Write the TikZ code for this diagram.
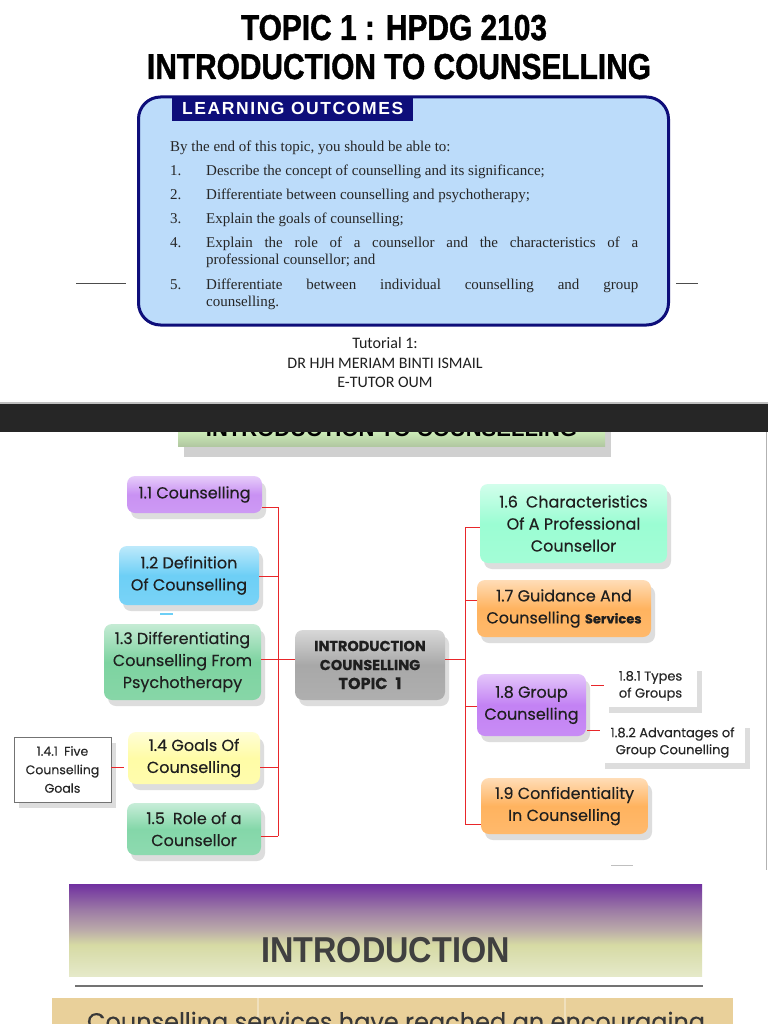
\documentclass[tikz,border=0pt]{standalone}
\usepackage{fontspec}
\setmainfont{Liberation Serif}
\newfontfamily\titlefont{Liberation Sans}[FakeStretch=0.83,FakeBold=1.2]
\newfontfamily\introfont{Liberation Sans}[FakeStretch=0.9]
\newfontfamily\gothic{Poppins}[FakeBold=0.3]
\newfontfamily\calib{Carlito}
\newfontfamily\arialf{Liberation Sans}
\newfontfamily\lofont{Liberation Sans}[LetterSpace=9]
\usetikzlibrary{shadows}
\definecolor{navy}{HTML}{0E0E7A}
\definecolor{lobg}{HTML}{BCDCFA}
\definecolor{band}{HTML}{262626}
\definecolor{conn}{HTML}{E8262A}
\definecolor{c11}{HTML}{C991F3}
\definecolor{c12}{HTML}{6DCFF6}
\definecolor{c13}{HTML}{7DD3A0}
\definecolor{c14}{HTML}{FFFCA6}
\definecolor{c15}{HTML}{84D7A9}
\definecolor{ccen}{HTML}{A8A8A8}
\definecolor{c16}{HTML}{9BFDD3}
\definecolor{c17}{HTML}{FFB35F}
\definecolor{c18}{HTML}{C382F4}
\definecolor{c19}{HTML}{FFB35F}
\definecolor{hdrg}{HTML}{D2F2BC}
\definecolor{tan}{HTML}{E9D09A}
\definecolor{ipurple}{HTML}{7030A0}
\definecolor{imauve}{HTML}{9C7AA5}
\definecolor{imid}{HTML}{BBABA9}
\definecolor{iyel}{HTML}{D6DAA4}
\definecolor{ibot}{HTML}{E5E9C9}
\pgfdeclareverticalshading{introshade}{100bp}{color(0bp)=(ibot); color(25bp)=(ibot); color(42bp)=(iyel); color(50bp)=(imid); color(61bp)=(imauve); color(75bp)=(ipurple); color(100bp)=(ipurple)}
\begin{document}
\begin{tikzpicture}[x=1pt,y=-1pt,
  mbox/.style={rounded corners=8pt, align=center, inner sep=2pt,
    font=\gothic\fontsize{16}{22}\selectfont, text=black!88,
    top color=#1!45!white, bottom color=#1!92!white, middle color=#1,
    drop shadow={shadow xshift=4pt, shadow yshift=-6pt, opacity=0.22, fill=black!60}},
  wbox/.style={fill=white, align=center, inner sep=2pt,
    font=\gothic\fontsize{13}{17}\selectfont, text=black!85,
    drop shadow={shadow xshift=5pt, shadow yshift=-6pt, opacity=0.22, fill=black!60}},
  cline/.style={draw=conn, line width=0.9pt},
  lotext/.style={inner sep=0pt, anchor=base west, font=\fontsize{15}{17}\selectfont, text=black!85},
  tut/.style={inner sep=0pt, anchor=base, font=\calib\fontsize{16}{18}\selectfont, text=black!88}]
\useasboundingbox (0,0) rectangle (768,1024);
\fill[white] (0,0) rectangle (768,1024);

% ---------- title slide ----------
\node[anchor=base, inner sep=0pt, font=\titlefont\bfseries\fontsize{36}{40}\selectfont] (title1) at (394,40) {TOPIC 1 : HPDG 2103};
\node[anchor=base, inner sep=0pt, font=\titlefont\bfseries\fontsize{36}{40}\selectfont] (title2) at (399,79) {INTRODUCTION TO COUNSELLING};

\node[draw=navy, line width=3pt, fill=lobg, rounded corners=22pt, minimum width=530pt, minimum height=228pt] (lo) at (403.5,211) {};
\node[fill=navy, text=white, inner sep=0pt, anchor=north west, minimum width=241pt, minimum height=25pt, font=\lofont\bfseries\fontsize{17.5}{18}\selectfont] (loh) at (172,96) {LEARNING OUTCOMES};

\node[lotext] (lo0) at (170,151.5) {By the end of this topic, you should be able to:};
\node[lotext] (n1) at (170,175.5) {1.};
\node[lotext] (t1) at (206,175.5) {Describe the concept of counselling and its significance;};
\node[lotext] (n2) at (170,199.5) {2.};
\node[lotext] (t2) at (206,199.5) {Differentiate between counselling and psychotherapy;};
\node[lotext] (n3) at (170,223.5) {3.};
\node[lotext] (t3) at (206,223.5) {Explain the goals of counselling;};
\node[lotext] (n4) at (170,247.5) {4.};
\node[lotext] (t4) at (206,247.5) {\makebox[432pt][s]{Explain the role of a counsellor and the characteristics of a}};
\node[lotext] (t4b) at (206,264.5) {professional counsellor; and};
\node[lotext] (n5) at (170,289.5) {5.};
\node[lotext] (t5) at (206,289.5) {\makebox[432pt][s]{Differentiate between individual counselling and group}};
\node[lotext] (t5b) at (206,306.5) {counselling.};

\coordinate (ll1) at (76,283);
\coordinate (ll2) at (126,283);
\coordinate (rl1) at (676,283);
\coordinate (rl2) at (698,283);
\draw[black!70, line width=0.9pt] (ll1) -- (ll2);
\draw[black!70, line width=0.9pt] (rl1) -- (rl2);

\node[tut] (tu1) at (385,348) {Tutorial 1:};
\node[tut] (tu2) at (385,368.5) {DR HJH MERIAM BINTI ISMAIL};
\node[tut] (tu3) at (385,387.5) {E-TUTOR OUM};

% ---------- mind map slide ----------
\node[minimum width=427pt, minimum height=34pt, inner sep=0pt,
  top color=hdrg!60!white, bottom color=hdrg!80!black!90, middle color=hdrg,
  font=\arialf\bfseries\fontsize{22}{24}\selectfont,
  drop shadow={shadow xshift=6pt, shadow yshift=-11pt, opacity=0.3, fill=black!60}] (hd) at (391.5,429) {INTRODUCTION TO COUNSELLING};
\fill[black!25] (0,402) rectangle (768,404);
\fill[band] (0,404) rectangle (768,432);
\draw[black!30, line width=0.8pt] (766,432) -- (766,870);

\node[mbox=c11, minimum width=135pt, minimum height=37pt] (m11) at (194.5,494.5) {1.1 Counselling};
\node[mbox=c12, minimum width=140pt, minimum height=59pt] (m12) at (189,575.5) {1.2 Definition\\Of Counselling};
\node[mbox=c13, minimum width=157pt, minimum height=76pt] (m13) at (182.5,662) {1.3 Differentiating\\Counselling From\\Psychotherapy};
\node[mbox=c14, minimum width=132pt, minimum height=52pt] (m14) at (194,758) {1.4 Goals Of\\Counselling};
\node[wbox, draw=black!55, line width=0.8pt, minimum width=97pt, minimum height=65pt, font=\gothic\fontsize{12.5}{18.5}\selectfont] (m141) at (62.5,769.5) {1.4.1\enspace Five\\Counselling\\Goals};
\node[mbox=c15, minimum width=134pt, minimum height=52pt] (m15) at (194,829) {1.5\enspace Role of a\\Counsellor};
\node[mbox=ccen, minimum width=150pt, minimum height=70pt, font=\gothic\bfseries\fontsize{14.5}{19}\selectfont] (mc) at (370,665) {INTRODUCTION\\COUNSELLING\\{\fontsize{16}{19}\selectfont TOPIC\enspace 1}};
\node[mbox=c16, minimum width=187pt, minimum height=79pt] (m16) at (573.5,523.5) {1.6\enspace Characteristics\\Of A Professional\\Counsellor};
\node[mbox=c17, minimum width=174pt, minimum height=57pt] (m17) at (564,608.5) {1.7 Guidance And\\Counselling {\bfseries\fontsize{13}{22}\selectfont Services}};
\node[mbox=c18, minimum width=109pt, minimum height=62pt] (m18) at (531.5,705) {1.8 Group\\Counselling};
\node[wbox, minimum width=93pt, minimum height=42pt] (m181) at (650.5,686) {1.8.1 Types\\of Groups};
\node[wbox, minimum width=145pt, minimum height=41pt] (m182) at (672.5,742.5) {1.8.2 Advantages of\\Group Counelling};
\node[mbox=c19, minimum width=167pt, minimum height=56pt] (m19) at (564.5,806) {1.9 Confidentiality\\In Counselling};

% connectors, left
\coordinate (b11) at (278,507);
\coordinate (b12) at (278,576);
\coordinate (b13) at (278,659);
\coordinate (b14) at (278,767);
\coordinate (b15) at (278,836);
\draw[cline] (m11.east |- b11) -- (b11);
\draw[cline] (m12.east |- b12) -- (b12);
\draw[cline] (m13.east |- b13) -- (mc.west |- b13);
\draw[cline] (m14.east |- b14) -- (b14);
\draw[cline] (m15.east |- b15) -- (b15);
\draw[cline] (b11) -- (b15);
\draw[cline] (m141.east |- b14) -- ([xshift=-4pt]m14.west |- b14);
% connectors, right
\coordinate (r0) at (465,659);
\coordinate (r16) at (465,527);
\coordinate (r17) at (465,600);
\coordinate (r18) at (465,706);
\coordinate (r19) at (465,824);
\draw[cline] (mc.east |- r0) -- (r0);
\draw[cline] (r16) -- (r19);
\draw[cline] (r16) -- (m16.west |- r16);
\draw[cline] (r17) -- (m17.west |- r17);
\draw[cline] (r18) -- (m18.west |- r18);
\draw[cline] (r19) -- (m19.west |- r19);
\coordinate (s181) at (591,685);
\coordinate (s182) at (587,730);
\draw[cline] (s181) -- (m181.west |- s181);
\draw[cline] (s182) -- (m182.west |- s182);

\coordinate (bd1) at (160,614);
\coordinate (bd2) at (173,614);
\draw[c12, line width=1.2pt] (bd1) -- (bd2);
\coordinate (gd1) at (611,865);
\coordinate (gd2) at (633,865);
\draw[black!25, line width=0.8pt] (gd1) -- (gd2);

% ---------- introduction slide ----------
\shade[shading=introshade] (69,884) rectangle (702,976);
\node[anchor=base, inner sep=0pt, text=black!75, font=\introfont\bfseries\fontsize{36}{40}\selectfont] (intro) at (385.5,962) {INTRODUCTION};
\coordinate (il1) at (75,986);
\coordinate (il2) at (703,986);
\draw[black!55, line width=1.5pt] (il1) -- (il2);
\fill[tan] (52,998) rectangle (733,1024);
\fill[white, opacity=0.35] (257,998) rectangle (259,1024);
\fill[white, opacity=0.35] (564,998) rectangle (566,1024);
\node[anchor=base, inner sep=0pt, text=black!78, font=\gothic\fontsize{24}{26}\selectfont] (ctext) at (396,1030) {Counselling services have reached an encouraging};
\end{tikzpicture}
\end{document}
